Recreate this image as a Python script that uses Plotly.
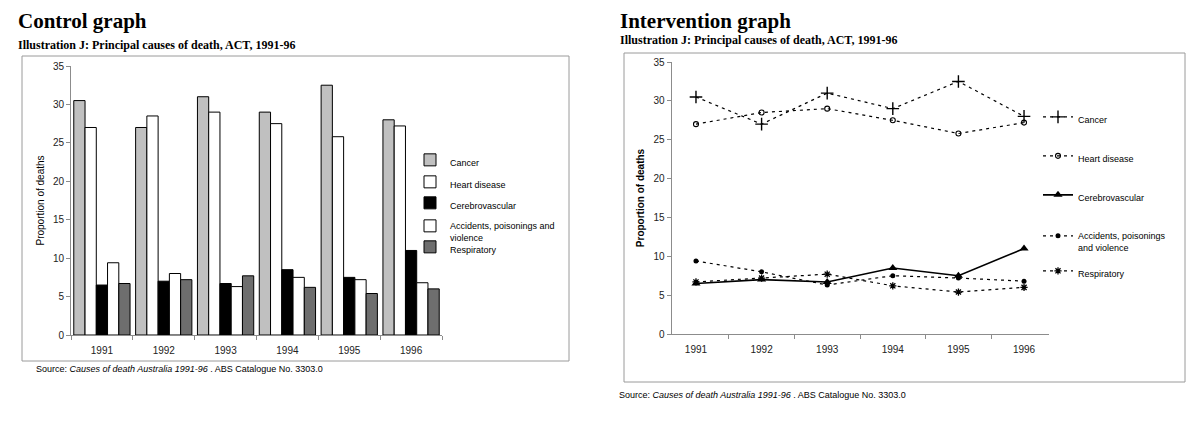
import plotly.graph_objects as go

# figure is drawn inside the page body margin (8px), so it is 16px smaller
PAGE_W, PAGE_H = 1200, 432
OFF = 8
W, H = PAGE_W - 2 * OFF, PAGE_H - 2 * OFF

years = ["1991", "1992", "1993", "1994", "1995", "1996"]
cancer = [30.5, 27.0, 31.0, 29.0, 32.5, 28.0]
heart = [27.0, 28.5, 29.0, 27.5, 25.8, 27.2]
cerebro = [6.5, 7.0, 6.7, 8.5, 7.5, 11.0]
accidents = [9.4, 8.0, 6.3, 7.5, 7.2, 6.8]
respiratory = [6.7, 7.2, 7.7, 6.2, 5.4, 6.0]
y_ticks = [0, 5, 10, 15, 20, 25, 30, 35]

values = [cancer, heart, cerebro, accidents, respiratory]


def px(x):
    return (x - OFF) / W


def py(y):
    return 1 - (y - OFF) / H


FONT = "Liberation Sans"
SERIF = "Liberation Serif"

fig = go.Figure()

# ---- left: bar chart ----
bar_colors = ["#c0c0c0", "#ffffff", "#000000", "#ffffff", "#6e6e6e"]
bar_legend_names = ["Cancer", "Heart disease", "Cerebrovascular",
                    "Accidents, poisonings and<br>violence", "Respiratory"]
for i, (name, vals, col) in enumerate(zip(bar_legend_names, values, bar_colors)):
    fig.add_trace(go.Bar(
        x=years, y=vals, name=name, legend="legend" if i == 0 else "legend%d" % (i + 1),
        marker=dict(color=col, line=dict(color="#000000", width=1)),
        xaxis="x", yaxis="y", hoverinfo="skip"))

# ---- right: line chart ----
line_legend_names = ["Cancer", "Heart disease", "Cerebrovascular",
                     "Accidents, poisonings<br>and violence", "Respiratory"]
line_styles = [
    dict(dash="3px,4px", width=1.2),
    dict(dash="3px,4px", width=1.2),
    dict(dash="solid", width=1.6),
    dict(dash="3px,4px", width=1.2),
    dict(dash="3px,4px", width=1.2),
]
markers = [
    dict(symbol="cross-thin", size=9, line=dict(color="#000", width=1.4), color="#000"),
    dict(symbol="circle-open", size=5, line=dict(color="#000", width=1.1), color="#000"),
    dict(symbol="triangle-up", size=8, color="#000", line=dict(color="#000", width=0)),
    dict(symbol="circle", size=5, color="#000", line=dict(color="#000", width=0)),
    dict(symbol="asterisk-open", size=6, line=dict(color="#000", width=1.3), color="#000"),
]
for i, (name, vals, ls, mk) in enumerate(zip(line_legend_names, values, line_styles, markers)):
    fig.add_trace(go.Scatter(
        x=years, y=vals, name=name, mode="lines+markers",
        legend="legend%d" % (i + 6),
        line=dict(color="#000000", **ls), marker=mk,
        xaxis="x2", yaxis="y2", hoverinfo="skip"))

axis_common = dict(showgrid=False, zeroline=False, showline=True,
                   linecolor="#8c8c8c", linewidth=1, ticks="outside",
                   tickcolor="#8c8c8c", ticklen=4,
                   tickfont=dict(family=FONT, size=10, color="#222"))

legend_font = dict(family=FONT, size=9, color="#000")


def leg(x, y):
    return dict(x=px(x), y=py(y), xanchor="left", yanchor="middle",
                bgcolor="rgba(0,0,0,0)", valign="top", itemwidth=30,
                font=legend_font)


# legend item centres (page pixels)
left_leg_y = [162, 184, 205, 232, 249]
right_leg_y = [119, 158, 197, 242, 273]

legends = {}
for i, yy in enumerate(left_leg_y):
    legends["legend" if i == 0 else "legend%d" % (i + 1)] = leg(410, yy)
for i, yy in enumerate(right_leg_y):
    legends["legend%d" % (i + 6)] = leg(1038, yy)

fig.update_layout(
    width=W, height=H,
    margin=dict(l=0, r=0, t=0, b=0, autoexpand=False),
    paper_bgcolor="white", plot_bgcolor="white",
    barmode="group", bargap=0.09, bargroupgap=0,
    xaxis=dict(domain=[px(71), px(442)], anchor="y", type="category",
               tickson="boundaries", ticklabelstandoff=6, **axis_common),
    yaxis=dict(domain=[py(335), py(66)], anchor="x", range=[0, 35],
               tickvals=y_ticks,
               title=dict(text="Proportion of deaths", standoff=6,
                          font=dict(family=FONT, size=10, color="#000")),
               **axis_common),
    xaxis2=dict(domain=[px(671.5), px(1048.5)], anchor="y2", type="category",
                tickson="boundaries", ticklabelstandoff=6, **axis_common),
    yaxis2=dict(domain=[py(334), py(62)], anchor="x2", range=[0, 35],
                tickvals=y_ticks,
                title=dict(text="<b>Proportion of deaths</b>", standoff=6,
                           font=dict(family=FONT, size=10, color="#000")),
                **axis_common),
    showlegend=True,
    **legends,
)

# panel borders
fig.add_shape(type="rect", xref="paper", yref="paper",
              x0=px(22), x1=px(569), y0=py(361), y1=py(56),
              line=dict(color="#9a9a9a", width=1), layer="below")
fig.add_shape(type="rect", xref="paper", yref="paper",
              x0=px(624), x1=px(1185), y0=py(382), y1=py(53),
              line=dict(color="#9a9a9a", width=1), layer="below")


def text(x, y, s, size, family, bold=False, yanchor="middle"):
    fig.add_annotation(x=px(x), y=py(y), xref="paper", yref="paper",
                       text=("<b>%s</b>" % s) if bold else s, showarrow=False,
                       xanchor="left", yanchor=yanchor, borderpad=0,
                       font=dict(family=family, size=size, color="#000"))


# main titles anchored to the top edge of the figure so they are not clipped
text(17, OFF, "Control graph", 21, SERIF, bold=True, yanchor="top")
text(17, 45, "Illustration J: Principal causes of death, ACT, 1991-96", 12, SERIF, bold=True)
text(619, OFF, "Intervention graph", 21, SERIF, bold=True, yanchor="top")
text(619, 40, "Illustration J: Principal causes of death, ACT, 1991-96", 12, SERIF, bold=True)

src = "Source: <i>Causes of death Australia 1991-96 </i>. ABS Catalogue No. 3303.0"
text(35, 369, src, 9, FONT)
text(618, 395, src, 9, FONT)

fig.write_html("out.html")
